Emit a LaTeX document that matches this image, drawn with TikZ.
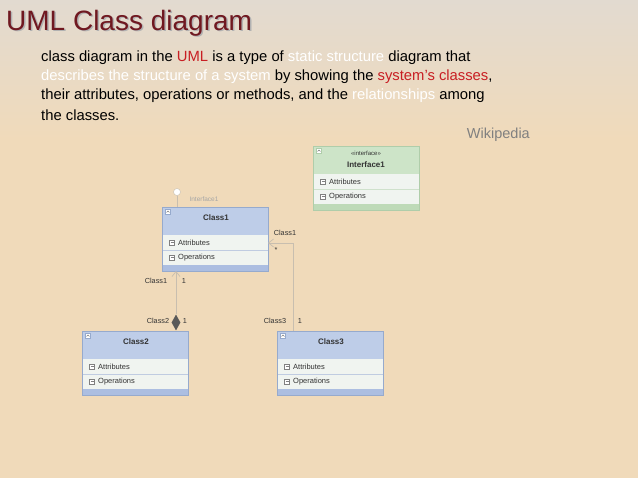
\documentclass[tikz,border=0pt]{standalone}
\usepackage{fontspec}
\setmainfont{Liberation Sans}
\usetikzlibrary{arrows.meta,shapes.geometric}
\definecolor{bgtop}{RGB}{226,218,208}
\definecolor{bgbot}{RGB}{240,218,186}
\definecolor{titlered}{RGB}{112,24,32}
\definecolor{hl}{RGB}{200,30,35}
\definecolor{hdrblue}{RGB}{190,205,232}
\definecolor{hdrgreen}{RGB}{205,228,200}
\definecolor{barblue}{RGB}{172,190,225}
\definecolor{bargreen}{RGB}{190,218,184}
\definecolor{rowc}{RGB}{240,244,240}
\definecolor{edgeblue}{RGB}{150,170,205}
\definecolor{edgegreen}{RGB}{175,205,170}
\definecolor{linec}{RGB}{200,190,175}
\tikzset{
  lbl/.style={font=\fontsize{7.3}{8}\selectfont, text=black!80, inner sep=0pt},
  conn/.style={draw=linec, line width=0.7pt},
  tog/.style={draw=gray, fill=white, minimum size=5pt, inner sep=0pt},
}
\newcommand{\umlbox}[6]{% name, x, y, header color, edge color, bar color
  \fill[#4] (#2,#3) rectangle ++(106,28);
  \fill[rowc] (#2,#3+28) rectangle ++(106,30);
  \draw[#5!60, line width=0.3pt] (#2,#3+43) -- ++(106,0);
  \fill[#6] (#2,#3+58) rectangle ++(106,6);
  \draw[#5, line width=0.8pt] (#2,#3) rectangle ++(106,64);
  \node[tog, draw=#5] at (#2+6,#3+5) {};
  \draw[gray, line width=0.4pt] (#2+4.5,#3+5.5) -- (#2+6,#3+4) -- (#2+7.5,#3+5.5);
  \node[tog] at (#2+10,#3+35.5) {};
  \draw[gray, line width=0.5pt] (#2+8.5,#3+35.5) -- ++(3,0);
  \node[tog] at (#2+10,#3+50.5) {};
  \draw[gray, line width=0.5pt] (#2+8.5,#3+50.5) -- ++(3,0);
  \node[lbl, anchor=west, font=\fontsize{7.5}{8}\selectfont] at (#2+16,#3+35.5) {Attributes};
  \node[lbl, anchor=west, font=\fontsize{7.5}{8}\selectfont] at (#2+16,#3+50.5) {Operations};
  \coordinate (#1) at (#2,#3);
}
\begin{document}
\begin{tikzpicture}[x=1pt,y=-1pt]
\useasboundingbox (0,0) rectangle (638,478);
\shade[top color=bgtop, bottom color=bgbot] (0,0) rectangle (638,140);
\fill[bgbot] (0,140) rectangle (638,478);
\node[anchor=west, text=black!30, font=\fontsize{28}{30}\selectfont, inner sep=0pt] at (7.5,24.5) {UML Class diagram};
\node[anchor=west, text=titlered, font=\fontsize{28}{30}\selectfont, inner sep=0pt] (title) at (6,23) {UML Class diagram};
\begin{scope}[every node/.style={anchor=west, inner sep=0pt, font=\fontsize{14.8}{16}\selectfont}]
\node (l1) at (41,58) {class diagram in the \textcolor{hl}{UML} is a type of \textcolor{white}{static structure} diagram that};
\node (l2) at (41,77) {\textcolor{white}{describes the structure of a system} by showing the \textcolor{hl}{system's classes},};
\node (l3) at (41,96) {their attributes, operations or methods, and the \textcolor{white}{relationships} among};
\node (l4) at (41,115) {the classes.};
\end{scope}
\node[anchor=east, text=gray, font=\fontsize{14.5}{15}\selectfont, inner sep=0pt] (wiki) at (530,135) {Wikipedia};

\umlbox{I1}{313}{146}{hdrgreen}{edgegreen}{bargreen}
\node[lbl, font=\fontsize{6}{6}\selectfont] (stereo) at (366,153) {«interface»};
\node[lbl, font=\bfseries\fontsize{8}{8}\selectfont] (i1name) at (366,165) {Interface1};

\umlbox{C1}{162}{207}{hdrblue}{edgeblue}{barblue}
\node[lbl, font=\bfseries\fontsize{8}{8}\selectfont] (c1name) at (216,218) {Class1};
\umlbox{C2}{82}{331}{hdrblue}{edgeblue}{barblue}
\node[lbl, font=\bfseries\fontsize{8}{8}\selectfont] (c2name) at (136,342) {Class2};
\umlbox{C3}{277}{331}{hdrblue}{edgeblue}{barblue}
\node[lbl, font=\bfseries\fontsize{8}{8}\selectfont] (c3name) at (331,342) {Class3};

% lollipop
\coordinate (c1top) at (177,207);
\node[circle, draw=linec, fill=white, minimum size=7pt, inner sep=0pt] (lolli) at (177,192) {};
\draw[conn] (lolli) -- (c1top);
\node[lbl, text=black!35, font=\fontsize{6.5}{7}\selectfont] (ilbl) at (204,199) {Interface1};

% composition Class2 -> Class1
\coordinate (c1bot) at (176,271);
\coordinate (c2top) at (176,331);
\node[diamond, fill=black!65, minimum width=9pt, minimum height=16pt, inner sep=0pt] (dia) at (176,322.5) {};
\draw[conn, -{Straight Barb[length=5pt,width=8pt]}] (dia) -- (c1bot);
\node[lbl] at (156,281) {Class1};
\node[lbl] at (184,281) {1};
\node[lbl] at (158,321) {Class2};
\node[lbl] at (185,321) {1};

% association Class3 -> Class1
\coordinate (c3top) at (293,331);
\coordinate (c1right) at (268,243);
\draw[conn, -{Straight Barb[length=5pt,width=8pt]}] (c3top) |- (c1right);
\node[lbl] at (285,233) {Class1};
\node[lbl] at (276,250) {*};
\node[lbl] at (275,321) {Class3};
\node[lbl] at (300,321) {1};
\end{tikzpicture}
\end{document}
